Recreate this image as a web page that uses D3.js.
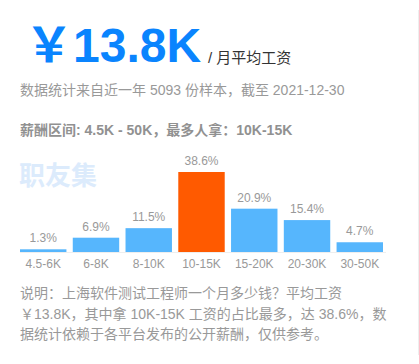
<!DOCTYPE html>
<html>
<head>
<meta charset="utf-8">
<title>上海软件测试工程师 月平均工资</title>
<script src="https://cdn.jsdelivr.net/npm/d3@7"></script>
<style>
  body { margin: 0; background: #fff; }
  svg text { font-family: "Liberation Sans", Arial, "Noto Sans CJK SC", sans-serif; }
</style>
</head>
<body>
<div id="chart"></div>
<script>
// salary ranges and share of samples (%)
var categories = ["4.5-6K", "6-8K", "8-10K", "10-15K", "15-20K", "20-30K", "30-50K"];
var shares = [1.3, 6.9, 11.5, 38.6, 20.9, 15.4, 4.7];
var topRange = "10-15K";

var avgSalary = "￥13.8K";
var avgUnit = "/ 月平均工资";
var subtitle = "数据统计来自近一年 5093 份样本，截至 2021-12-30";
var rangeLine = "薪酬区间: 4.5K - 50K，最多人拿：10K-15K";
var noteLines = [
  "说明：上海软件测试工程师一个月多少钱？平均工资",
  "￥13.8K，其中拿 10K-15K 工资的占比最多，达 38.6%，数",
  "据统计依赖于各平台发布的公开薪酬，仅供参考。"
];

var W = 419, H = 364;
var svg = d3.select("#chart").append("svg")
    .attr("width", W).attr("height", H);

// thin border on the right
svg.append("line")
    .attr("x1", 418.5).attr("x2", 418.5).attr("y1", 10).attr("y2", 355)
    .attr("stroke", "#eeeeee");

// header
svg.append("text")
    .attr("x", 25).attr("y", 62)
    .attr("fill", "#0a84fe")
    .style("font-size", "48px").style("font-weight", "bold")
    .text(avgSalary);
svg.append("text")
    .attr("x", 208).attr("y", 63)
    .attr("fill", "#333")
    .style("font-size", "15px")
    .text(avgUnit);
svg.append("text")
    .attr("x", 20).attr("y", 95)
    .attr("fill", "#999")
    .style("font-size", "14px")
    .text(subtitle);
svg.append("text")
    .attr("x", 20).attr("y", 135)
    .attr("fill", "#919191")
    .style("font-size", "14px").style("font-weight", "bold")
    .text(rangeLine);

// watermark
svg.append("text")
    .attr("x", 19).attr("y", 185)
    .attr("fill", "#dcebfc")
    .style("font-size", "26px").style("font-weight", "bold")
    .text("职友集");

// bars
var x = d3.scaleBand()
    .domain(categories)
    .range([20, 383])
    .paddingInner(0.12)
    .paddingOuter(0);

var y = d3.scaleLinear()
    .domain([0, d3.max(shares)])
    .range([252, 172]);

var data = categories.map(function(c, i) { return { cat: c, v: shares[i] }; });

svg.append("line")
    .attr("x1", 20).attr("x2", 386).attr("y1", 252.5).attr("y2", 252.5)
    .attr("stroke", "#eeeeee");

var bar = svg.selectAll("g.bar")
    .data(data)
    .enter().append("g")
    .attr("class", "bar");

bar.append("rect")
    .attr("x", function(d) { return x(d.cat); })
    .attr("y", function(d) { return y(d.v); })
    .attr("width", x.bandwidth())
    .attr("height", function(d) { return y(0) - y(d.v); })
    .attr("fill", function(d) { return d.cat === topRange ? "#ff5a00" : "#56b6fd"; });

bar.append("text")
    .attr("x", function(d) { return x(d.cat) + x.bandwidth() / 2; })
    .attr("y", function(d) { return y(d.v) - 7; })
    .attr("text-anchor", "middle")
    .attr("fill", "#999")
    .style("font-size", "12px")
    .text(function(d) { return d.v + "%"; });

var xAxis = svg.append("g")
    .attr("transform", "translate(0,252)")
    .call(d3.axisBottom(x).tickSize(0).tickPadding(7));
xAxis.select(".domain").remove();
xAxis.selectAll("text")
    .attr("fill", "#999")
    .style("font-size", "12px")
    .style("font-family", '"Liberation Sans", Arial, sans-serif');

// note
svg.append("text")
    .attr("fill", "#999")
    .style("font-size", "14px")
    .selectAll("tspan")
    .data(noteLines)
    .enter().append("tspan")
    .attr("x", 20)
    .attr("y", function(d, i) { return 298 + i * 20.5; })
    .text(function(d) { return d; });
</script>
</body>
</html>
